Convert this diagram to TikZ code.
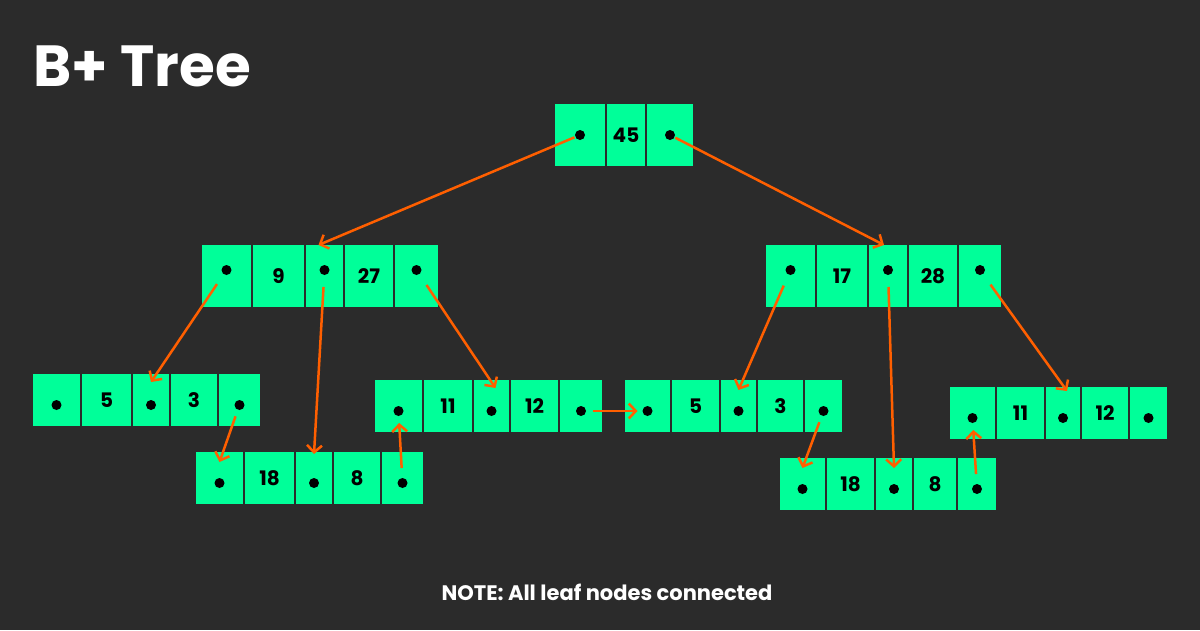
\documentclass[tikz,border=0pt]{standalone}
\usepackage{fontspec}
\setmainfont{Poppins}
\usetikzlibrary{arrows.meta}
\definecolor{bg}{HTML}{2B2B2B}
\definecolor{cellc}{HTML}{00FF99}
\definecolor{arr}{HTML}{FF5F00}
\def\dotmark{*}
\newcommand\brow[5]{%
  \foreach \a/\b/\t [count=\i] in {#5}{%
    \ifx\t\dotmark
      \node[cell, minimum width={(\b-\a)*1pt}, minimum height={(#3-#2)*1pt}] (#1\i) at ({(\a+\b)/2},{(#2+#3)/2}) {};
      \coordinate (#1\i d) at ([yshift=#4pt]#1\i.center);
      \fill ([yshift=#4pt]#1\i.center) circle (5pt);
    \else
      \node[cell, minimum width={(\b-\a)*1pt}, minimum height={(#3-#2)*1pt}] (#1\i) at ({(\a+\b)/2},{(#2+#3)/2}) {\t};
    \fi
  }%
}
\begin{document}
\begin{tikzpicture}[x=1pt,y=-1pt,
  cell/.style={fill=cellc, inner sep=0pt, outer sep=0pt, font=\bfseries\fontsize{20}{20}\selectfont, text=black},
  ptr/.style={draw=arr, line width=2.5pt, -{Straight Barb[length=7pt,width=15pt,line width=2.5pt]}}]
\fill[bg] (0,0) rectangle (1200,630);
\useasboundingbox (0,0) rectangle (1200,630);
\node[anchor=west, text=white, font=\bfseries\fontsize{58}{58}\selectfont] (title) at (30,66) {B+ Tree};
\node[text=white, font=\bfseries\fontsize{21}{21}\selectfont] (note) at (607,592) {NOTE: All leaf nodes connected};
\brow{r}{104}{166}{0}{555/605/*,607/645/45,647/693/*}
\brow{a}{245}{307}{6}{202/251/*,253/304/9,306/343/*,345/393/27,395/438/*}
\brow{b}{245}{307}{6}{766/815/*,817/867/17,869/907/*,909/957/28,959/1001/*}
\brow{c}{374}{426}{-5}{33/80/*,82/131/5,133/169/*,171/217/3,219/260/*}
\brow{e}{452}{504}{-5}{196/243/*,245/294/18,296/332/*,334/380/8,382/423/*}
\brow{f}{380}{432}{-5}{375/422/*,424/472/11,474/509/*,511/558/12,560/602/*}
\brow{g}{380}{432}{-5}{625/670/*,672/719/5,721/756/*,758/803/3,805/842/*}
\brow{h}{458}{510}{-5}{780/825/*,827/874/18,876/912/*,914/956/8,958/996/*}
\brow{k}{387}{439}{-5}{950/995/*,997/1044/11,1046/1080/*,1082/1128/12,1130/1167/*}
\draw[ptr, shorten <=6pt] (r1d) -- ([xshift=-6pt]a3.north);
\draw[ptr, shorten <=6pt] (r3d) -- ([xshift=-4pt]b3.north);
\draw[ptr, shorten <=17pt] (a1d) -- ([yshift=-8pt]c3.north);
\draw[ptr, shorten <=17pt] (a3d) -- ([yshift=-2pt]e3.north);
\draw[ptr, shorten <=18pt] (a5d) -- ([xshift=4pt,yshift=-8pt]f3.north);
\draw[ptr, shorten <=12pt] (c5d) -- ([yshift=-10pt]e1.north);
\draw[ptr, shorten <=15pt, shorten >=12pt] (e5d) -- (f1d);
\draw[ptr, shorten <=12pt, shorten >=10pt] (f5d) -- (g1d);
\draw[ptr, shorten <=17pt] (b1d) -- ([yshift=-10pt]g3.north);
\draw[ptr, shorten <=17pt] (b3d) -- ([yshift=-10pt]h3.north);
\draw[ptr, shorten <=18pt] (b5d) -- ([xshift=4pt,yshift=-4pt]k3.north);
\draw[ptr, shorten <=12pt] (g5d) -- ([yshift=-10pt]h1.north);
\draw[ptr, shorten <=15pt, shorten >=12pt] (h5d) -- (k1d);
\end{tikzpicture}
\end{document}
